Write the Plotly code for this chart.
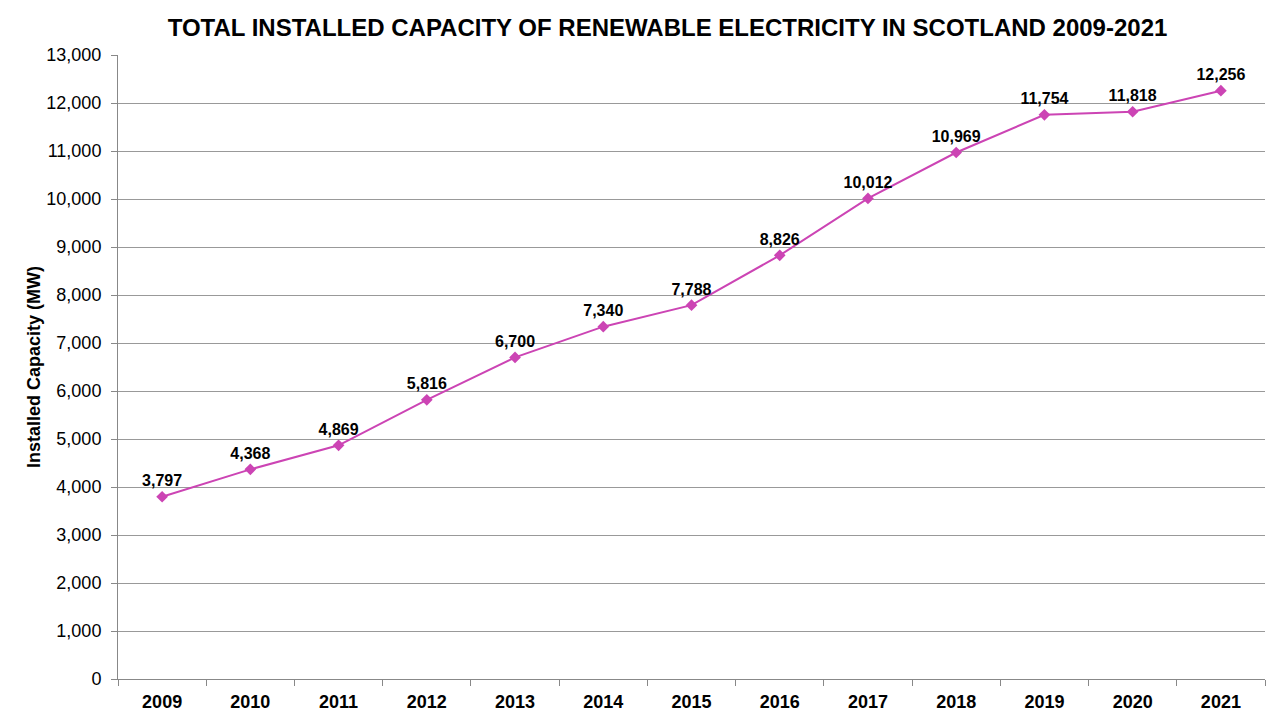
import plotly.graph_objects as go

years = ["2009", "2010", "2011", "2012", "2013", "2014", "2015", "2016", "2017", "2018", "2019", "2020", "2021"]
capacity = [3797, 4368, 4869, 5816, 6700, 7340, 7788, 8826, 10012, 10969, 11754, 11818, 12256]
labels = [f"{v:,}" for v in capacity]
y_ticks = list(range(0, 13001, 1000))

FONT = "Liberation Sans, Arial, sans-serif"

fig = go.Figure(go.Scatter(
    x=years, y=capacity, mode="lines+markers+text",
    line=dict(color="#CC44B4", width=2),
    marker=dict(symbol="diamond", size=9, color="#CC44B4"),
    text=labels, textposition="top center",
    textfont=dict(family=FONT, size=16, color="black", weight="bold"),
    cliponaxis=False,
))

fig.update_layout(
    width=1280, height=720,
    margin=dict(l=118, r=15, t=55, b=41),
    paper_bgcolor="white", plot_bgcolor="white",
    showlegend=False,
    title=dict(text="TOTAL INSTALLED CAPACITY OF RENEWABLE ELECTRICITY IN SCOTLAND 2009-2021",
               x=0.5215, xref="container", xanchor="center", y=0.962, yanchor="middle",
               font=dict(family=FONT, size=24, color="black", weight="bold")),
    font=dict(family=FONT, color="black"),
)
fig.update_xaxes(
    type="category", tickson="boundaries", ticks="outside", ticklen=6, tickcolor="#888888",
    showline=True, linecolor="#888888", linewidth=1, showgrid=False,
    tickfont=dict(family=FONT, size=18, color="black", weight="bold"),
    ticklabelstandoff=6, automargin=False,
    range=[-0.5, 12.5],
)
fig.update_yaxes(
    range=[0, 13000], tickvals=y_ticks, ticktext=[f"{v:,}" for v in y_ticks],
    ticks="outside", ticklen=6, tickcolor="#888888",
    showline=True, linecolor="#888888", linewidth=1,
    showgrid=True, gridcolor="#999999", gridwidth=1, zeroline=False,
    tickfont=dict(family=FONT, size=18, color="black"),
    ticklabelstandoff=6, automargin=False,
    title=dict(text="Installed Capacity (MW)", standoff=1,
               font=dict(family=FONT, size=18, color="black", weight="bold")),
)

fig.write_html("out.html")
